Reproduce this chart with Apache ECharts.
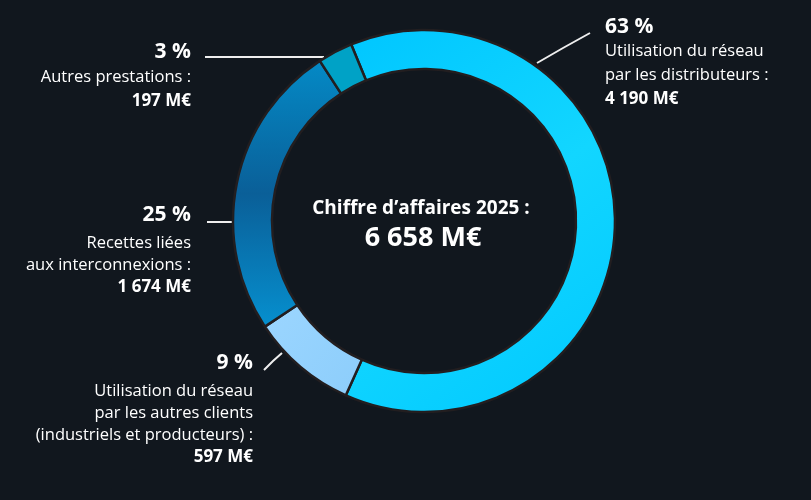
<!DOCTYPE html>
<html>
<head>
<meta charset="utf-8">
<style>
  html, body { margin: 0; padding: 0; background: #11171e; }
  #chart { width: 811px; height: 500px; }
</style>
<script src="https://cdn.jsdelivr.net/npm/echarts@6/dist/echarts.min.js"></script>
</head>
<body>
<div id="chart"></div>
<script>
// chiffre d'affaires par poste (M€)
var values = [4190, 597, 1674, 197];
var nameLines = [
  ['Utilisation du réseau', 'par les distributeurs :'],
  ['Utilisation du réseau', 'par les autres clients', '(industriels et producteurs) :'],
  ['Recettes liées', 'aux interconnexions :'],
  ['Autres prestations :']
];
var centerTitle = 'Chiffre d\u2019affaires 2025 :';

var FONT = 'Open Sans';
var total = values.reduce(function (a, b) { return a + b; }, 0);

function fmt(n) {
  return String(n).replace(/\B(?=(\d{3})+(?!\d))/g, ' ') + ' M€';
}

var sliceColors = [
  new echarts.graphic.LinearGradient(0, 0, 1, 1, [
    { offset: 0, color: '#00c6ff' },
    { offset: 0.5, color: '#12d6ff' },
    { offset: 1, color: '#00c8ff' }
  ]),
  new echarts.graphic.LinearGradient(0, 0, 1, 1, [
    { offset: 0, color: '#9cd6ff' },
    { offset: 1, color: '#8ccdfb' }
  ]),
  new echarts.graphic.LinearGradient(0, 0, 0, 1, [
    { offset: 0, color: '#048ac6' },
    { offset: 0.5, color: '#0a5f98' },
    { offset: 1, color: '#0690cf' }
  ]),
  '#00a2c6'
];

// label placement: [x, y, align, pct line height, line height, line points]
var labelPos = [
  [605, 15, 'left', 24, 24, [[537, 63], [563, 48], [590, 33]]],
  [253, 346, 'right', 34, 22, [[282, 353], [273, 361], [264, 370]]],
  [191, 198, 'right', 34, 22, [[232, 222], [219, 222], [207, 222]]],
  [191, 39, 'right', 26, 24, [[324, 57], [264, 57], [205, 57]]]
];

var data = values.map(function (v, i) {
  var p = labelPos[i];
  return {
    value: v,
    name: nameLines[i].join(' '),
    itemStyle: { color: sliceColors[i] },
    label: {
      align: p[2],
      rich: {
        pct: { fontFamily: FONT, fontSize: 21, fontWeight: 'bold', color: '#ffffff', lineHeight: p[3], align: p[2] },
        txt: { fontFamily: FONT, fontSize: 16.5, color: '#ffffff', lineHeight: p[4], align: p[2] },
        val: { fontFamily: FONT, fontSize: 17, fontWeight: 'bold', color: '#ffffff', lineHeight: p[4], align: p[2] }
      }
    }
  };
});

var chart = echarts.init(document.getElementById('chart'));
var option = {
  backgroundColor: '#11171e',
  animation: false,
  graphic: [
    { type: 'text', x: 421, y: 209, style: { text: centerTitle, fontFamily: FONT, fontSize: 19, fontWeight: 'bold', fill: '#ffffff', align: 'center', verticalAlign: 'middle' } },
    { type: 'text', x: 423, y: 238, style: { text: fmt(total), fontFamily: FONT, fontSize: 27, fontWeight: 'bold', fill: '#ffffff', align: 'center', verticalAlign: 'middle' } }
  ],
  series: [{
    type: 'pie',
    center: [424, 221],
    radius: [152, 191],
    startAngle: 112.4,
    clockwise: true,
    avoidLabelOverlap: false,
    itemStyle: { borderColor: '#221e20', borderWidth: 2.5 },
    emphasis: { disabled: true },
    label: {
      show: true,
      position: 'outside',
      formatter: function (params) {
        var i = params.dataIndex;
        var lines = ['{pct|' + Math.round(params.percent) + ' %}'];
        nameLines[i].forEach(function (l) { lines.push('{txt|' + l + '}'); });
        lines.push('{val|' + fmt(values[i]) + '}');
        return lines.join('\n');
      }
    },
    labelLine: { show: true, lineStyle: { color: '#eeeeee', width: 2 } },
    labelLayout: function (params) {
      var p = labelPos[params.dataIndex];
      return { x: p[0], y: p[1], align: p[2], verticalAlign: 'top', labelLinePoints: p[5] };
    },
    data: data
  }]
};
chart.setOption(option);

window.addEventListener('resize', chart.resize);
</script>
</body>
</html>
